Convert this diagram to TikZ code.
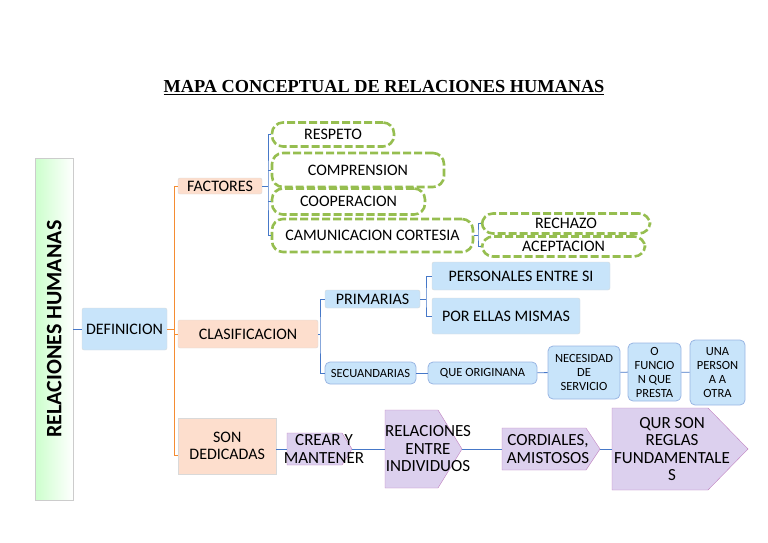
\documentclass[tikz,border=0pt]{standalone}
\usepackage{fontspec}
\setmainfont{Carlito}
\newfontfamily\titlefont{Liberation Serif}
\usetikzlibrary{shapes.geometric}
\definecolor{lblue}{RGB}{200,228,250}
\definecolor{lpeach}{RGB}{253,222,205}
\definecolor{lpurple}{RGB}{220,208,238}
\definecolor{dgreen}{RGB}{150,190,80}
\definecolor{bline}{RGB}{70,120,200}
\definecolor{oline}{RGB}{245,140,50}
\newcommand{\mysig}[6]{% name, x1,y1,x2,y2, tip length
  \fill[lpurple, draw=violet!50] (#2,#3) -- (#4-#6,#3) -- (#4,#3/2+#5/2) -- (#4-#6,#5) -- (#2,#5) -- cycle;
  \coordinate (#1) at (#2/2+#4/2-#6/4,#3/2+#5/2);
  \coordinate (#1-w) at (#2,#3/2+#5/2);
  \coordinate (#1-e) at (#4,#3/2+#5/2);}
\begin{document}
\begin{tikzpicture}[x=1pt,y=-1pt,
 every node/.style={font=\fontsize{16}{17}\selectfont, align=center, inner sep=1pt},
 box/.style={draw=black!15, rounded corners=2pt, fill=#1},
 ell/.style={draw=dgreen, line width=2.6pt, dash pattern=on 8pt off 3pt, rounded corners=11pt},
 cy/.style={draw=cyan!50!blue!40, fill=lblue, rounded corners=5pt, line width=0.8pt, font=\fontsize{12.5}{14}\selectfont},
 st/.style={font=\fontsize{17}{17.5}\selectfont},
 bl/.style={draw=bline, line width=0.9pt},
 ol/.style={draw=oline, line width=1pt}]
\useasboundingbox (0,0) rectangle (768,543);
\node[font=\titlefont\bfseries\fontsize{18.3}{20}\selectfont] (title) at (384,88) {\underline{MAPA CONCEPTUAL DE RELACIONES HUMANAS}};

\node[draw=black!20, left color=green!20, right color=white, minimum width=38, minimum height=342, anchor=north west] (rh) at (35,158) {};
\node[rotate=90, font=\bfseries\fontsize{22}{24}\selectfont] at (rh.center) {RELACIONES HUMANAS};

\node[box=lblue, minimum width=85, minimum height=42] (def) at (124.5,329) {DEFINICION};
\draw[bl] (rh.east |- def) -- (def.west);

\node[box=lpeach, minimum width=84, minimum height=16] (fac) at (220,186) {FACTORES};
\node[box=lpeach, minimum width=140, minimum height=28] (cla) at (248,334) {CLASIFICACION};
\node[draw=black!15, fill=lpeach, minimum width=98, minimum height=56, anchor=north west] (son) at (178,418) {SON\\DEDICADAS};
\coordinate (oj) at (174,329);
\draw[ol] (def.east) -- (oj);
\draw[ol] (fac.west) -| (174,186) -- (174,455) -- (son.west |- 0,455);
\draw[ol] (oj) |- (cla.west);

\node[ell, minimum width=122, minimum height=24] (res) at (333,134.5) {RESPETO};
\node[ell, minimum width=172, minimum height=34] (com) at (358,170) {COMPRENSION};
\node[ell, minimum width=153, minimum height=26] (coo) at (348.5,201.5) {COOPERACION};
\node[ell, minimum width=201, minimum height=33] (cam) at (372.5,235.5) {CAMUNICACION CORTESIA};
\node[ell, minimum width=168, minimum height=20] (rec) at (566,223.5) {RECHAZO};
\node[ell, minimum width=163, minimum height=20] (ace) at (563.5,246.5) {ACEPTACION};
\draw[bl] (fac.east) -- (268,186);
\draw[bl] (res.west) -| (268,186) |- (cam.west);
\draw[bl] (268,170) -- (com.west);
\draw[bl] (268,201.5) -- (coo.west);
\draw[bl] (cam.east) -- (478,235.5);
\draw[bl] (rec.west) -| (478,235.5) |- (ace.west);

\node[box=lblue, minimum width=95, minimum height=18] (pri) at (372.5,299) {PRIMARIAS};
\node[box=lblue, minimum width=178, minimum height=28] (per) at (521,276) {PERSONALES ENTRE SI};
\node[box=lblue, minimum width=148, minimum height=36] (por) at (506,316) {POR ELLAS MISMAS};
\node[cy, minimum width=91, minimum height=22] (sec) at (370.5,373) {SECUANDARIAS};
\node[cy, minimum width=109, minimum height=22] (que) at (482.5,373) {QUE ORIGINANA};
\node[cy, minimum width=72, minimum height=53] (nec) at (584,372.5) {NECESIDAD\\DE\\SERVICIO};
\node[cy, minimum width=53, minimum height=58] (fun) at (654.5,372) {O\\FUNCIO\\N QUE\\PRESTA};
\node[cy, minimum width=55, minimum height=65] (una) at (717.5,372.5) {UNA\\PERSON\\A A\\OTRA};
\draw[bl] (cla.east) -- (320,334);
\draw[bl] (pri.west) -| (320,334) |- (sec.west);
\draw[bl] (pri.east) -- (426,299);
\draw[bl] (per.west) -| (426,299) |- (por.west);
\draw[bl] (sec) -- (que); \draw[bl] (que) -- (nec); \draw[bl] (nec) -- (fun); \draw[bl] (fun) -- (una);

\mysig{cre}{287}{433}{352}{465}{10}
\mysig{rel}{385}{410}{462}{488}{24}
\mysig{cor}{502}{428}{600}{470}{14}
\mysig{qur}{612}{408}{748}{490}{40}
\draw[bl] (son.east |- cre-w) -- (cre-w);
\draw[bl] (cre-e) -- (rel-w);
\draw[bl] (rel-e) -- (cor-w);
\draw[bl] (cor-e) -- (qur-w);
\node[st] (tcre) at (324,449) {CREAR Y\\MANTENER};
\node[st] (trel) at (428,449) {RELACIONES\\ENTRE\\INDIVIDUOS};
\node[st] (tcor) at (548,449) {CORDIALES,\\AMISTOSOS};
\node[st] (tqur) at (672,449) {QUR SON\\REGLAS\\FUNDAMENTALE\\S};
\end{tikzpicture}
\end{document}
